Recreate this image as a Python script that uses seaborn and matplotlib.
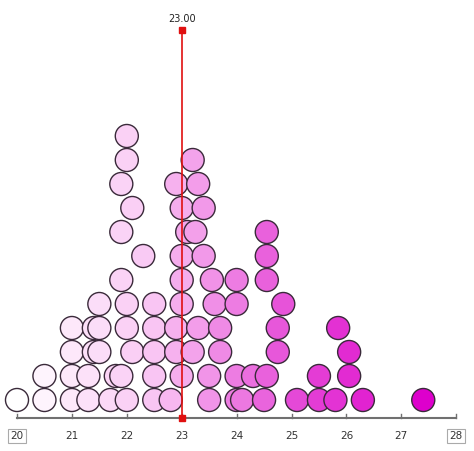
import matplotlib
matplotlib.use("Agg")
import matplotlib.pyplot as plt
import seaborn as sns
import pandas as pd
from matplotlib.colors import LinearSegmentedColormap

# values (x) and stacking level (row) of each circle
values = [20.0,20.5,21.0,21.3,21.7,22.0,22.5,22.8,23.5,24.0,24.1,24.5,25.1,25.5,25.8,26.3,27.4,
          20.5,21.0,21.3,21.8,21.9,22.5,23.0,23.5,24.0,24.3,24.55,25.5,26.05,
          21.0,21.4,21.5,22.1,22.5,22.9,23.2,23.7,24.75,26.05,
          21.0,21.4,21.5,22.0,22.5,22.9,23.3,23.7,24.75,25.85,
          21.5,22.0,22.5,23.0,23.6,24.0,24.85,
          21.9,23.0,23.55,24.0,24.55,
          22.3,23.0,23.4,24.55,
          21.9,23.1,23.25,24.55,
          22.1,23.0,23.4,
          21.9,22.9,23.3,
          22.0,23.2,
          22.0]
rows = [0]*17 + [1]*13 + [2]*10 + [3]*10 + [4]*7 + [5]*5 + [6]*4 + [7]*4 + [8]*3 + [9]*3 + [10]*2 + [11]
ticks = [20, 21, 22, 23, 24, 25, 26, 27, 28]
marker_value = 23.0
marker_label = "23.00"

df = pd.DataFrame({"value": values, "row": rows})

fig = plt.figure(figsize=(4.74, 4.51), dpi=100)
ax = fig.add_axes([0, 0, 1, 1])
ppu = 54.9
ax.set_xlim(20 - 17 / ppu, 20 + (474 - 17) / ppu)
ax.set_ylim(-(451 - 400) / 24, 400 / 24)
ax.axis("off")

cmap = LinearSegmentedColormap.from_list("wm", ["#ffffff", "#f9c6f3", "#e64fd8", "#dd00cc"])
axis_y = -0.75
ax.plot([ticks[0], ticks[-1]], [axis_y, axis_y], color="#707070", lw=1.5, zorder=1)
for t in ticks:
    ax.plot([t, t], [axis_y, axis_y + 0.18], color="#707070", lw=1, zorder=1)
    bbox = dict(boxstyle="square,pad=0.2", fc="white", ec="#aaaaaa", lw=0.8) if t in (ticks[0], ticks[-1]) else None
    ax.text(t, -1.5, str(t), ha="center", va="center", fontsize=7.5, color="#333333", bbox=bbox)

sns.scatterplot(data=df, x="value", y="row", hue="value", palette=cmap, hue_norm=(20, 27.4),
                s=275, edgecolor="#3a2a3a", linewidth=1.0, legend=False, ax=ax, zorder=3)

top = 15.42
ax.plot([marker_value, marker_value], [axis_y, top], color="#e01010", lw=1.2, zorder=4)
ax.plot([marker_value, marker_value], [axis_y, top], ls="none", marker="s", ms=4, color="#e01010", zorder=4)
ax.text(marker_value, top + 0.45, marker_label, ha="center", va="center", fontsize=7, color="#222222")

fig.savefig("out.png", dpi=100)
